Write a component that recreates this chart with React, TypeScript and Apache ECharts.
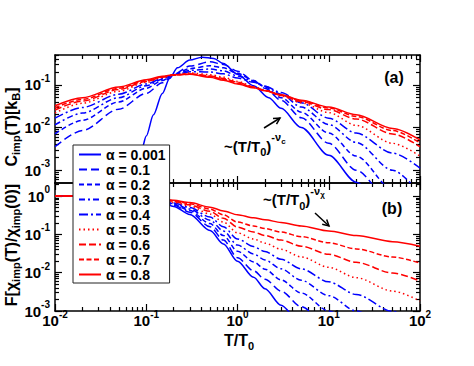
import React, { useEffect, useRef } from "react";
import * as echarts from "echarts";

// ---------- data (log10 scale) ----------
const T_GRID = [0.01, 0.02, 0.05, 0.1, 0.15, 0.2, 0.3, 0.5, 0.7, 1, 1.5, 2, 3, 5, 10, 20, 50, 100];
const T_A001 = [0.06, 0.07, 0.08, 0.09, 0.1, 0.12, 0.15, 0.18, 0.22, 0.3, 0.41, 0.55, 0.7, 1, 1.5, 2.2, 3, 5, 10, 20, 30];

const ALPHA_LABELS = ["α = 0.001", "α = 0.1", "α = 0.2", "α = 0.3", "α = 0.4", "α = 0.5", "α = 0.6", "α = 0.7", "α = 0.8"];

// panel (a): log10 C_imp(T)
const LOGC_A0001 = [-3.6, -3.15, -2.8, -2.48, -2.2, -1.7, -1.2, -0.85, -0.6, -0.42, -0.35, -0.38, -0.5, -0.75, -1.02, -1.3, -1.55, -2.0, -2.65, -3.28, -3.65];
const LOGC_A01 = [-2.45, -2.07, -1.57, -1.2, -0.95, -0.75, -0.56, -0.46, -0.52, -0.68, -0.9, -1.08, -1.36, -1.77, -2.37, -3.0, -3.8, -4.4];
const LOGC_A02 = [-2.15, -1.83, -1.4, -1.08, -0.9, -0.76, -0.62, -0.55, -0.6, -0.73, -0.9, -1.05, -1.3, -1.64, -2.13, -2.67, -3.45, -4.0];
const LOGC_A03 = [-1.94, -1.66, -1.3, -1.02, -0.87, -0.76, -0.66, -0.63, -0.67, -0.79, -0.92, -1.03, -1.22, -1.52, -1.93, -2.35, -3.0, -3.55];
const LOGC_A04 = [-1.78, -1.53, -1.22, -0.98, -0.85, -0.77, -0.69, -0.7, -0.74, -0.84, -0.94, -1.03, -1.18, -1.42, -1.78, -2.13, -2.6, -2.95];
const LOGC_A05 = [-1.66, -1.43, -1.15, -0.94, -0.83, -0.77, -0.72, -0.76, -0.82, -0.92, -1.04, -1.13, -1.26, -1.42, -1.65, -1.95, -2.37, -2.67];
const LOGC_A06 = [-1.59, -1.38, -1.11, -0.92, -0.82, -0.77, -0.74, -0.79, -0.85, -0.94, -1.05, -1.13, -1.25, -1.39, -1.58, -1.8, -2.15, -2.45];
const LOGC_A07 = [-1.54, -1.34, -1.08, -0.9, -0.81, -0.77, -0.75, -0.8, -0.87, -0.96, -1.06, -1.13, -1.24, -1.37, -1.54, -1.74, -2.07, -2.36];
const LOGC_A08 = [-1.49, -1.3, -1.05, -0.88, -0.8, -0.76, -0.75, -0.82, -0.89, -0.98, -1.07, -1.14, -1.23, -1.36, -1.52, -1.7, -2.02, -2.29];

// panel (b): log10 F[chi_imp(T)/chi_imp(0)]
const LOGF_A0001 = [0, -0.003, -0.02, -0.08, -0.17, -0.27, -0.48, -0.9, -1.25, -1.7, -2.12, -2.42, -2.85, -3.35, -4.1, -4.8, -5.7, -6.4];
const LOGF_A01 = [0, -0.003, -0.02, -0.075, -0.15, -0.24, -0.42, -0.8, -1.15, -1.61, -1.95, -2.17, -2.48, -2.89, -3.44, -4.0, -4.7, -5.3];
const LOGF_A02 = [0, -0.003, -0.018, -0.07, -0.14, -0.22, -0.38, -0.72, -1.03, -1.44, -1.72, -1.91, -2.19, -2.53, -3.0, -3.47, -4.1, -4.6];
const LOGF_A03 = [0, -0.003, -0.017, -0.065, -0.13, -0.2, -0.34, -0.63, -0.91, -1.28, -1.51, -1.67, -1.9, -2.2, -2.6, -3.0, -3.53, -3.93];
const LOGF_A04 = [0, -0.002, -0.015, -0.06, -0.12, -0.18, -0.3, -0.55, -0.8, -1.12, -1.32, -1.45, -1.65, -1.9, -2.24, -2.57, -3.01, -3.34];
const LOGF_A05 = [0, -0.002, -0.014, -0.055, -0.11, -0.16, -0.26, -0.47, -0.68, -0.96, -1.12, -1.23, -1.39, -1.59, -1.86, -2.13, -2.48, -2.74];
const LOGF_A06 = [0, -0.002, -0.012, -0.05, -0.1, -0.14, -0.23, -0.4, -0.58, -0.81, -0.94, -1.03, -1.15, -1.31, -1.52, -1.73, -2.01, -2.22];
const LOGF_A07 = [0, -0.002, -0.01, -0.045, -0.09, -0.12, -0.2, -0.34, -0.49, -0.68, -0.78, -0.85, -0.94, -1.06, -1.22, -1.38, -1.59, -1.75];
const LOGF_A08 = [0, -0.001, -0.009, -0.04, -0.08, -0.11, -0.17, -0.29, -0.39, -0.49, -0.57, -0.62, -0.69, -0.78, -0.91, -1.03, -1.19, -1.31];

// tick decades (exponents)
const X_DECADES = [-2, -1, 0, 1, 2];
const YA_DECADES = [-3, -2, -1];
const YB_DECADES = [-3, -2, -1, 0];
const MINOR_MULTIPLIERS = [2, 3, 4, 5, 6, 7, 8, 9];

// ---------- styles ----------
const BLUE = "#0000ff";
const RED = "#ff0000";
const FONT = "Liberation Sans";
const LINE_STYLES: any[] = [
  { color: BLUE, type: "solid" },
  { color: BLUE, type: [8, 4] },
  { color: BLUE, type: [5, 3] },
  { color: BLUE, type: [6, 3, 2, 3] },
  { color: BLUE, type: [9, 3, 2, 3] },
  { color: RED, type: [1.5, 3] },
  { color: RED, type: [7, 3] },
  { color: RED, type: [5, 2.5] },
  { color: RED, type: "solid" },
];

function minorTicks(decades: number[], lo: number, hi: number) {
  const out: number[] = [];
  for (let n = decades[0] - 1; n <= decades[decades.length - 1]; n++) {
    for (const k of MINOR_MULTIPLIERS) {
      const v = n + Math.log10(k);
      if (v > lo && v < hi) out.push(v);
    }
  }
  return out;
}

// rich token: every token top-aligned, vertical position set by top padding
const tok = (size: number, padTop: number, lh: number) => ({
  fontSize: size,
  fontWeight: "bold",
  fontFamily: FONT,
  color: "#000",
  lineHeight: lh,
  verticalAlign: "top",
  padding: [padTop, 0, 0, 0],
});

const labelRich = { b: tok(15, 4, 23), s: tok(10, 0, 23) };
const powFmt = (v: number) => `{b|10}{s|${Math.round(v)}}`;

function makeAxes(dim: "x" | "y", grid: number, min: number, max: number, decades: number[], showLabels: boolean) {
  const major = decades.filter((d) => d >= min - 1e-9 && d <= max + 1e-9);
  const minor = minorTicks(decades, min, max);
  const positions = dim === "x" ? ["bottom", "top"] : ["left", "right"];
  const axes: any[] = [];
  positions.forEach((pos, pi) => {
    [true, false].forEach((isMajor) => {
      axes.push({
        type: "value",
        gridIndex: grid,
        position: pos,
        min,
        max,
        axisLine: { show: isMajor, onZero: false, lineStyle: { color: "#000", width: 1.5 } },
        axisTick: {
          show: true,
          inside: true,
          length: isMajor ? 7 : 4,
          customValues: isMajor ? major : minor,
          lineStyle: { color: "#000", width: 1.2 },
        },
        axisLabel: {
          show: showLabels && pi === 0 && isMajor,
          customValues: major,
          formatter: powFmt,
          rich: labelRich,
          margin: dim === "x" ? -2 : 5,
        },
        splitLine: { show: false },
        minorTick: { show: false },
      });
    });
  });
  return axes;
}

const TOP_C = [LOGC_A0001, LOGC_A01, LOGC_A02, LOGC_A03, LOGC_A04, LOGC_A05, LOGC_A06, LOGC_A07, LOGC_A08];
const BOT_F = [LOGF_A0001, LOGF_A01, LOGF_A02, LOGF_A03, LOGF_A04, LOGF_A05, LOGF_A06, LOGF_A07, LOGF_A08];

const series: any[] = [];
TOP_C.forEach((vals, i) => {
  const ts = i === 0 ? T_A001 : T_GRID;
  series.push({
    type: "line",
    name: ALPHA_LABELS[i],
    xAxisIndex: 0,
    yAxisIndex: 0,
    data: ts.map((t, j) => [Math.log10(t), vals[j]]),
    symbol: "none",
    showSymbol: false,
    smooth: 0.3,
    smoothMonotone: "x",
    lineStyle: { ...LINE_STYLES[i], width: 1.5 },
    itemStyle: { color: LINE_STYLES[i].color },
    z: 2,
  });
});
BOT_F.forEach((vals, i) => {
  series.push({
    type: "line",
    name: ALPHA_LABELS[i],
    xAxisIndex: 4,
    yAxisIndex: 4,
    data: T_GRID.map((t, j) => [Math.log10(t), vals[j]]),
    symbol: "none",
    showSymbol: false,
    smooth: 0.3,
    smoothMonotone: "x",
    lineStyle: { ...LINE_STYLES[i], width: 1.5 },
    itemStyle: { color: LINE_STYLES[i].color },
    z: 2,
  });
});

// titles: main glyph centred at line middle (14 of 28), subscripts 5px lower
const titleRich = { m: tok(16, 6, 28), sub: tok(11, 13.5, 28) };
// annotations: main centre 14.5 of 30
const annRich = { m: tok(15, 7, 30), sub: tok(11, 15, 30), sup: tok(11, 0, 30), ss: tok(8, 5.5, 30) };

const graphic: any[] = [
  { type: "text", x: 11, y: 127, rotation: Math.PI / 2, style: { text: "{m|C}{sub|imp}{m|(T)[k}{sub|B}{m|]}", rich: titleRich, align: "center", verticalAlign: "middle" } },
  { type: "text", x: 11, y: 245, rotation: Math.PI / 2, style: { text: "{m|F[χ}{sub|imp}{m|(T)/χ}{sub|imp}{m|(0)]}", rich: titleRich, align: "center", verticalAlign: "middle" } },
  { type: "text", x: 239, y: 340.5, style: { text: "{m|T/T}{sub|0}", rich: titleRich, align: "center", verticalAlign: "middle" } },
  { type: "text", x: 394, y: 77, style: { text: "(a)", font: `bold 16px "${FONT}"`, fill: "#000", align: "center", verticalAlign: "middle" } },
  { type: "text", x: 392, y: 208, style: { text: "(b)", font: `bold 16px "${FONT}"`, fill: "#000", align: "center", verticalAlign: "middle" } },
  { type: "text", x: 224, y: 146.5, style: { text: "{m|~(T/T}{sub|0}{m|)}{sup|-ν}{ss|c}", rich: annRich, align: "left", verticalAlign: "middle" } },
  { type: "text", x: 263, y: 200, style: { text: "{m|~(T/T}{sub|0}{m|)}{sup|-ν}{ss|χ}", rich: annRich, align: "left", verticalAlign: "middle" } },
  { type: "line", shape: { x1: 264, y1: 128, x2: 280, y2: 118 }, style: { stroke: "#000", lineWidth: 1.5 } },
  { type: "polyline", shape: { points: [[273, 118.5], [280, 118], [276.5, 124.1]] }, style: { stroke: "#000", lineWidth: 1.5, fill: null } },
  { type: "line", shape: { x1: 315, y1: 213, x2: 329, y2: 226 }, style: { stroke: "#000", lineWidth: 1.5 } },
  { type: "polyline", shape: { points: [[326.7, 219.4], [329, 226], [322.2, 224.2]] }, style: { stroke: "#000", lineWidth: 1.5, fill: null } },
];

const option: any = {
  animation: false,
  backgroundColor: "#fff",
  grid: [
    { left: 55, top: 55, width: 365, height: 128, containLabel: false, outerBoundsMode: "none" },
    { left: 55, top: 183, width: 365, height: 128, containLabel: false, outerBoundsMode: "none" },
  ],
  xAxis: [
    ...makeAxes("x", 0, -2, 2, X_DECADES, false),
    ...makeAxes("x", 1, -2, 2, X_DECADES, true),
  ],
  yAxis: [
    ...makeAxes("y", 0, -3.3, -0.3, YA_DECADES, true),
    ...makeAxes("y", 1, -3, 0.34, YB_DECADES, true),
  ],
  legend: {
    orient: "vertical",
    left: 73,
    top: 145,
    data: ALPHA_LABELS,
    itemWidth: 22,
    itemHeight: 10,
    itemGap: 0,
    padding: [2, 4, 1, 5],
    backgroundColor: "#fff",
    borderColor: "#222",
    borderWidth: 1,
    borderRadius: 0,
    itemStyle: { opacity: 0 },
    textStyle: { fontSize: 14, fontWeight: "bold", fontFamily: FONT, color: "#000", lineHeight: 15 },
    selectedMode: false,
    z: 10,
  },
  series,
  graphic,
};

export default function App() {
  const ref = useRef<HTMLDivElement>(null);
  useEffect(() => {
    const chart = echarts.init(ref.current!, undefined, { renderer: "svg" });
    chart.setOption(option);
    return () => chart.dispose();
  }, []);
  return <div ref={ref} style={{ position: "fixed", left: 0, top: 0, width: 474, height: 366, background: "#fff" }} />;
}
